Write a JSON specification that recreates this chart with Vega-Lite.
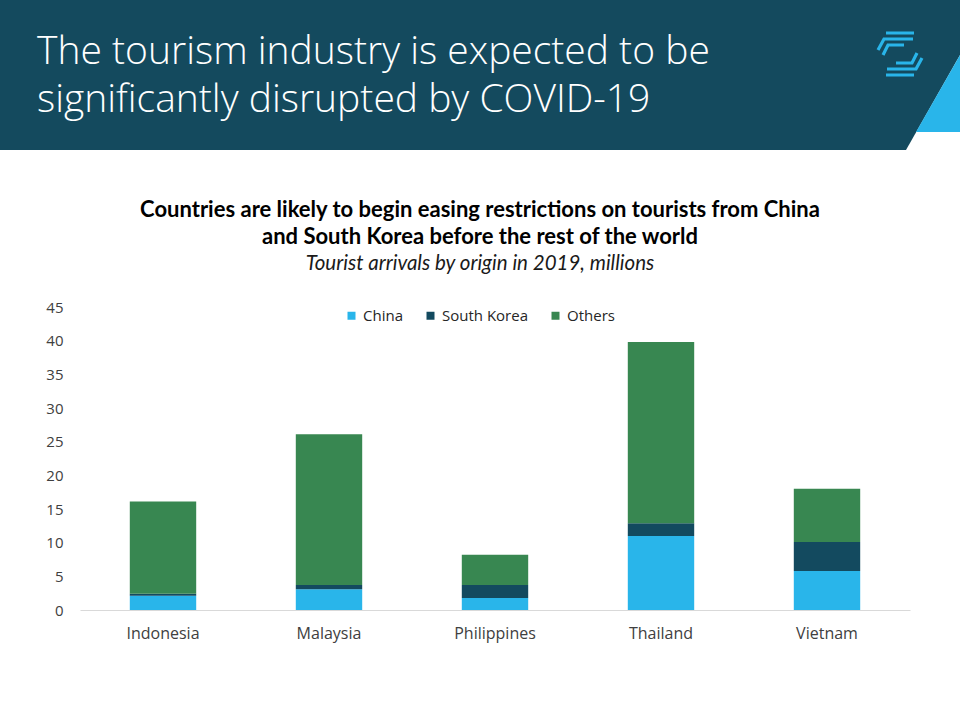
{
  "$schema": "https://vega.github.io/schema/vega-lite/v6.json",
  "width": 830,
  "height": 303,
  "autosize": {"type": "none"},
  "padding": {"left": 80, "top": 307, "right": 50, "bottom": 110},
  "background": "white",
  "title": {
    "text": ["Countries are likely to begin easing restrictions on tourists from China", "and South Korea before the rest of the world"],
    "subtitle": "Tourist arrivals by origin in 2019, millions",
    "anchor": "middle",
    "frame": "group",
    "dx": -15,
    "offset": -275,
    "font": "Lato",
    "fontSize": 22,
    "fontWeight": "bold",
    "color": "#000000",
    "lineHeight": 27,
    "subtitleFont": "Lato",
    "subtitleFontSize": 20.5,
    "subtitleFontStyle": "italic",
    "subtitleColor": "#1a1a1a",
    "subtitlePadding": 5
  },
  "config": {
    "view": {"stroke": null},
    "font": "Open Sans"
  },
  "layer": [
    {
      "data": {
        "values": [
          {"country": "Indonesia", "origin": "China", "k": 1, "arrivals": 2.1},
          {"country": "Indonesia", "origin": "South Korea", "k": 2, "arrivals": 0.3},
          {"country": "Indonesia", "origin": "Others", "k": 3, "arrivals": 13.7},
          {"country": "Malaysia", "origin": "China", "k": 1, "arrivals": 3.1},
          {"country": "Malaysia", "origin": "South Korea", "k": 2, "arrivals": 0.6},
          {"country": "Malaysia", "origin": "Others", "k": 3, "arrivals": 22.4},
          {"country": "Philippines", "origin": "China", "k": 1, "arrivals": 1.8},
          {"country": "Philippines", "origin": "South Korea", "k": 2, "arrivals": 1.9},
          {"country": "Philippines", "origin": "Others", "k": 3, "arrivals": 4.5},
          {"country": "Thailand", "origin": "China", "k": 1, "arrivals": 11.0},
          {"country": "Thailand", "origin": "South Korea", "k": 2, "arrivals": 1.9},
          {"country": "Thailand", "origin": "Others", "k": 3, "arrivals": 26.9},
          {"country": "Vietnam", "origin": "China", "k": 1, "arrivals": 5.8},
          {"country": "Vietnam", "origin": "South Korea", "k": 2, "arrivals": 4.3},
          {"country": "Vietnam", "origin": "Others", "k": 3, "arrivals": 7.9}
        ]
      },
      "mark": {"type": "bar"},
      "encoding": {
        "x": {
          "field": "country",
          "type": "nominal",
          "sort": null,
          "scale": {"paddingInner": 0.6, "paddingOuter": 0.3},
          "axis": {
            "title": null,
            "labelAngle": 0,
            "ticks": false,
            "domainColor": "#D9D9D9",
            "domainWidth": 1,
            "labelFont": "Open Sans",
            "labelFontSize": 16,
            "labelColor": "#404040",
            "labelPadding": 15
          }
        },
        "y": {
          "field": "arrivals",
          "type": "quantitative",
          "stack": "zero",
          "scale": {"domain": [0, 45], "nice": false},
          "axis": {
            "title": null,
            "values": [0, 5, 10, 15, 20, 25, 30, 35, 40, 45],
            "grid": false,
            "domain": false,
            "ticks": false,
            "labelFont": "Open Sans",
            "labelFontSize": 15,
            "labelColor": "#404040",
            "labelPadding": 17
          }
        },
        "color": {
          "field": "origin",
          "type": "nominal",
          "scale": {
            "domain": ["China", "South Korea", "Others"],
            "range": ["#29B5EA", "#134A5F", "#388751"]
          },
          "legend": {
            "title": null,
            "orient": "none",
            "direction": "horizontal",
            "legendX": 264,
            "legendY": 1,
            "symbolType": "square",
            "symbolSize": 64,
            "symbolStrokeWidth": 0,
            "labelFont": "Open Sans",
            "labelFontSize": 15,
            "labelColor": "#262626",
            "labelOffset": 4,
            "columnPadding": 20
          }
        },
        "order": {"field": "k", "type": "quantitative", "sort": "ascending"}
      }
    },
    {
      "data": {"values": [{"part": "banner"}]},
      "mark": {
        "type": "point",
        "shape": "M0,0L960,0L960,55L906,150L0,150Z",
        "size": 4,
        "filled": true,
        "fill": "#144A5E",
        "strokeWidth": 0,
        "opacity": 1
      },
      "encoding": {"x": {"value": -80}, "y": {"value": -307}}
    },
    {
      "data": {"values": [{"part": "accent"}]},
      "mark": {
        "type": "point",
        "shape": "M960,55L960,132L916,132Z",
        "size": 4,
        "filled": true,
        "fill": "#29B5EA",
        "strokeWidth": 0,
        "opacity": 1
      },
      "encoding": {"x": {"value": -80}, "y": {"value": -307}}
    },
    {
      "data": {"values": [{"part": "logo"}]},
      "mark": {
        "type": "point",
        "shape": "M886,33L914,33M878,50L884,39L913,39M883,55L888,45L904,45M896,63L912,63L917,53M887,69L916,69L922,58M886,75L914,75",
        "size": 4,
        "filled": false,
        "stroke": "#29B5EA",
        "strokeWidth": 3.2,
        "strokeCap": "butt",
        "opacity": 1
      },
      "encoding": {"x": {"value": -80}, "y": {"value": -307}}
    },
    {
      "data": {"values": [{"part": "headline"}]},
      "mark": {
        "type": "text",
        "text": ["The tourism industry is expected to be", "significantly disrupted by COVID-19"],
        "font": "Open Sans",
        "fontWeight": 300,
        "fontSize": 39,
        "lineHeight": 48,
        "color": "#FFFFFF",
        "align": "left",
        "baseline": "alphabetic"
      },
      "encoding": {"x": {"value": -43}, "y": {"value": -243}}
    }
  ]
}
